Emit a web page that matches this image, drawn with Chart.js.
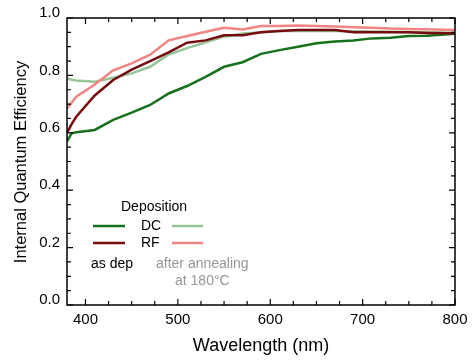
<!DOCTYPE html>
<html><head><meta charset="utf-8">
<script src="https://cdn.jsdelivr.net/npm/chart.js@4/dist/chart.umd.min.js"></script>
<style>html,body{margin:0;padding:0;background:#fff}#wrap{width:474px;height:363px}</style>
</head><body><div id="wrap"><canvas id="c" width="474" height="363"></canvas></div>
<script>
const wavelengths = [380,385,390,410,430,450,470,490,510,530,550,570,590,610,630,650,670,690,710,730,750,770,800];
const dcAsDep     = [0.57,0.598,0.602,0.61,0.645,0.67,0.697,0.737,0.763,0.795,0.83,0.846,0.875,0.888,0.90,0.912,0.918,0.922,0.929,0.931,0.937,0.938,0.945];
const rfAsDep     = [0.60,0.63,0.656,0.73,0.784,0.82,0.85,0.88,0.914,0.922,0.94,0.94,0.95,0.955,0.958,0.958,0.958,0.95,0.95,0.95,0.95,0.948,0.947];
const dcAnnealed  = [0.79,0.785,0.782,0.778,0.792,0.807,0.83,0.873,0.895,0.915,0.935,0.946,0.95,0.955,0.955,0.955,0.955,0.954,0.953,0.952,0.951,0.95,0.948];
const rfAnnealed  = [0.685,0.705,0.726,0.768,0.818,0.842,0.872,0.922,0.937,0.952,0.966,0.96,0.972,0.972,0.974,0.972,0.97,0.968,0.966,0.963,0.962,0.961,0.958];
const xTicks = [400,500,600,700,800];
const yTicks = [0.0,0.2,0.4,0.6,0.8,1.0];

const FONT = "'Liberation Sans', Arial, sans-serif";
const C_DC = 'rgb(22,112,28)', C_RF = 'rgb(118,12,14)', C_DCA = 'rgb(150,196,152)', C_RFA = 'rgb(242,132,132)';

function pts(ys){ return wavelengths.map((x,i)=>({x:x,y:ys[i]})); }

const framePlugin = {
  id:'frame',
  afterDatasetsDraw(chart){
    const ctx = chart.ctx, a = chart.chartArea, xs = chart.scales.x, ys = chart.scales.y;
    ctx.save();
    ctx.strokeStyle = '#000'; ctx.lineWidth = 1.5;
    ctx.strokeRect(a.left, a.top, a.right-a.left, a.bottom-a.top);
    ctx.lineWidth = 1.2;
    ctx.beginPath();
    for (let v=400; v<=800; v+=25){
      const p = xs.getPixelForValue(v); const L = (v%100===0)?6:4;
      ctx.moveTo(p,a.bottom); ctx.lineTo(p,a.bottom-L);
      ctx.moveTo(p,a.top); ctx.lineTo(p,a.top+L);
    }
    for (let k=0; k<=20; k++){
      const v = k*0.05; const p = ys.getPixelForValue(v); const L = (k%4===0)?6:4;
      ctx.moveTo(a.left,p); ctx.lineTo(a.left+L,p);
      ctx.moveTo(a.right,p); ctx.lineTo(a.right-L,p);
    }
    ctx.stroke();
    // axis titles
    ctx.fillStyle = '#000';
    ctx.font = '18px ' + FONT;
    ctx.textAlign = 'center'; ctx.textBaseline = 'middle';
    ctx.fillText('Wavelength (nm)', 261, 346);
    ctx.save();
    ctx.font = '16.5px ' + FONT;
    ctx.translate(21, 162); ctx.rotate(-Math.PI/2);
    ctx.fillText('Internal Quantum Efficiency', 0, 0);
    ctx.restore();
    // legend
    ctx.font = '14px ' + FONT;
    ctx.textAlign = 'left';
    ctx.fillText('Deposition', 121, 207);
    ctx.fillText('DC', 141, 226);
    ctx.fillText('RF', 141, 243);
    ctx.fillText('as dep', 91, 264);
    ctx.fillStyle = 'rgb(150,150,150)';
    ctx.fillText('after annealing', 156, 264);
    ctx.fillText('at 180°C', 175, 281);
    ctx.lineWidth = 2.5;
    const seg = (x1,x2,y,c)=>{ctx.strokeStyle=c;ctx.beginPath();ctx.moveTo(x1,y);ctx.lineTo(x2,y);ctx.stroke();};
    seg(93,125,226,C_DC); seg(93,125,243,C_RF);
    seg(172,203,226,C_DCA); seg(172,203,243,C_RFA);
    ctx.restore();
  }
};

const ds = (label, ys, color) => ({label, data:pts(ys), borderColor:color, backgroundColor:color, borderWidth:2.5, pointRadius:0, tension:0, fill:false});

new Chart(document.getElementById('c'), {
  type:'line',
  data:{ datasets:[ ds('RF as dep', rfAsDep, C_RF), ds('DC as dep', dcAsDep, C_DC), ds('RF annealed', rfAnnealed, C_RFA), ds('DC annealed', dcAnnealed, C_DCA) ] },
  options:{
    responsive:false, animation:false, devicePixelRatio:1,
    layout:{padding:{left:0,right:19,top:18,bottom:0}},
    plugins:{legend:{display:false}, tooltip:{enabled:false}},
    scales:{
      x:{type:'linear', min:380, max:800,
         afterBuildTicks(s){ s.ticks = xTicks.map(v=>({value:v})); },
         afterFit(s){ s.height = 58; },
         grid:{display:false, drawTicks:false}, border:{display:false},
         ticks:{color:'#000', font:{size:15, family:FONT}, padding:6, maxRotation:0, autoSkip:false}},
      y:{type:'linear', min:0, max:1.0,
         afterBuildTicks(s){ s.ticks = yTicks.map(v=>({value:v})); },
         afterFit(s){ s.width = 67; },
         grid:{display:false, drawTicks:false}, border:{display:false},
         ticks:{color:'#000', font:{size:15, family:FONT}, padding:7, labelOffset:-5, autoSkip:false,
                callback:v=>Number(v).toFixed(1)}}
    }
  },
  plugins:[framePlugin]
});
</script></body></html>
